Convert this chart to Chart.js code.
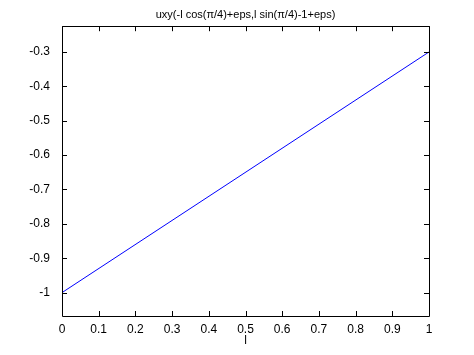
<!DOCTYPE html>
<html>
<head>
<meta charset="utf-8">
<script src="https://cdn.jsdelivr.net/npm/chart.js@4/dist/chart.umd.min.js"></script>
<style>
  html, body { margin: 0; padding: 0; background: #fff; }
  #wrap { width: 474px; height: 355px; }
</style>
</head>
<body>
<div id="wrap"><canvas id="c" width="474" height="355"></canvas></div>
<script>
// data
const lValues   = [0, 1];
const uxyValues = [-1, -0.3];
const titleText = 'uxy(-l cos(\u03c0/4)+eps,l sin(\u03c0/4)-1+eps)';
const xLabel    = 'l';

const FONT = "'Liberation Sans', Arial, sans-serif";

const fmt = v => String(+v.toFixed(2));

// MATLAB-like box with inward ticks on all four sides
const boxTicks = {
    id: 'boxTicks',
    afterDraw(chart) {
        const { ctx, chartArea: a, scales } = chart;
        const len = 5;
        ctx.save();
        ctx.strokeStyle = '#000';
        ctx.lineWidth = 1;
        ctx.beginPath();
        ctx.rect(Math.round(a.left) + 0.5, Math.round(a.top) + 0.5,
                 Math.round(a.right - a.left), Math.round(a.bottom - a.top));
        scales.x.ticks.forEach(t => {
            const px = Math.round(scales.x.getPixelForValue(t.value)) + 0.5;
            ctx.moveTo(px, a.bottom); ctx.lineTo(px, a.bottom - len);
            ctx.moveTo(px, a.top);    ctx.lineTo(px, a.top + len);
        });
        scales.y.ticks.forEach(t => {
            const py = Math.round(scales.y.getPixelForValue(t.value)) + 0.5;
            ctx.moveTo(a.left, py);  ctx.lineTo(a.left + len, py);
            ctx.moveTo(a.right, py); ctx.lineTo(a.right - len, py);
        });
        ctx.stroke();
        ctx.restore();
    }
};

new Chart(document.getElementById('c'), {
    type: 'scatter',
    data: {
        datasets: [{
            data: lValues.map((x, i) => ({ x, y: uxyValues[i] })),
            showLine: true,
            borderColor: '#0000ff',
            borderWidth: 1,
            pointRadius: 0,
            fill: false,
        }],
    },
    options: {
        responsive: false,
        animation: false,
        layout: { padding: { left: 0, right: 45, top: 0, bottom: 7 } },
        plugins: {
            legend: { display: false },
            tooltip: { enabled: false },
            title: {
                display: true,
                fullSize: false,
                text: titleText,
                color: '#000',
                font: { family: FONT, size: 11, weight: 'normal', lineHeight: 1.2 },
                padding: { top: 8, bottom: 5 },
            },
        },
        scales: {
            x: {
                type: 'linear',
                min: 0, max: 1,
                grid: { display: false },
                border: { display: false },
                ticks: {
                    stepSize: 0.1, color: '#000', padding: -2, maxRotation: 0,
                    font: { family: FONT, size: 12 },
                    callback: fmt,
                },
                title: {
                    display: true, text: xLabel, color: '#000',
                    font: { family: FONT, size: 12 }, padding: 0,
                },
                afterFit: s => { s.height = 32; },
            },
            y: {
                type: 'linear',
                min: -1.068, max: -0.225,
                grid: { display: false },
                border: { display: false },
                ticks: {
                    stepSize: 0.1, includeBounds: false, color: '#000', padding: 4,
                    font: { family: FONT, size: 12 },
                    callback: fmt,
                },
                afterFit: s => { s.width = 62; },
            },
        },
    },
    plugins: [boxTicks],
});
</script>
</body>
</html>
